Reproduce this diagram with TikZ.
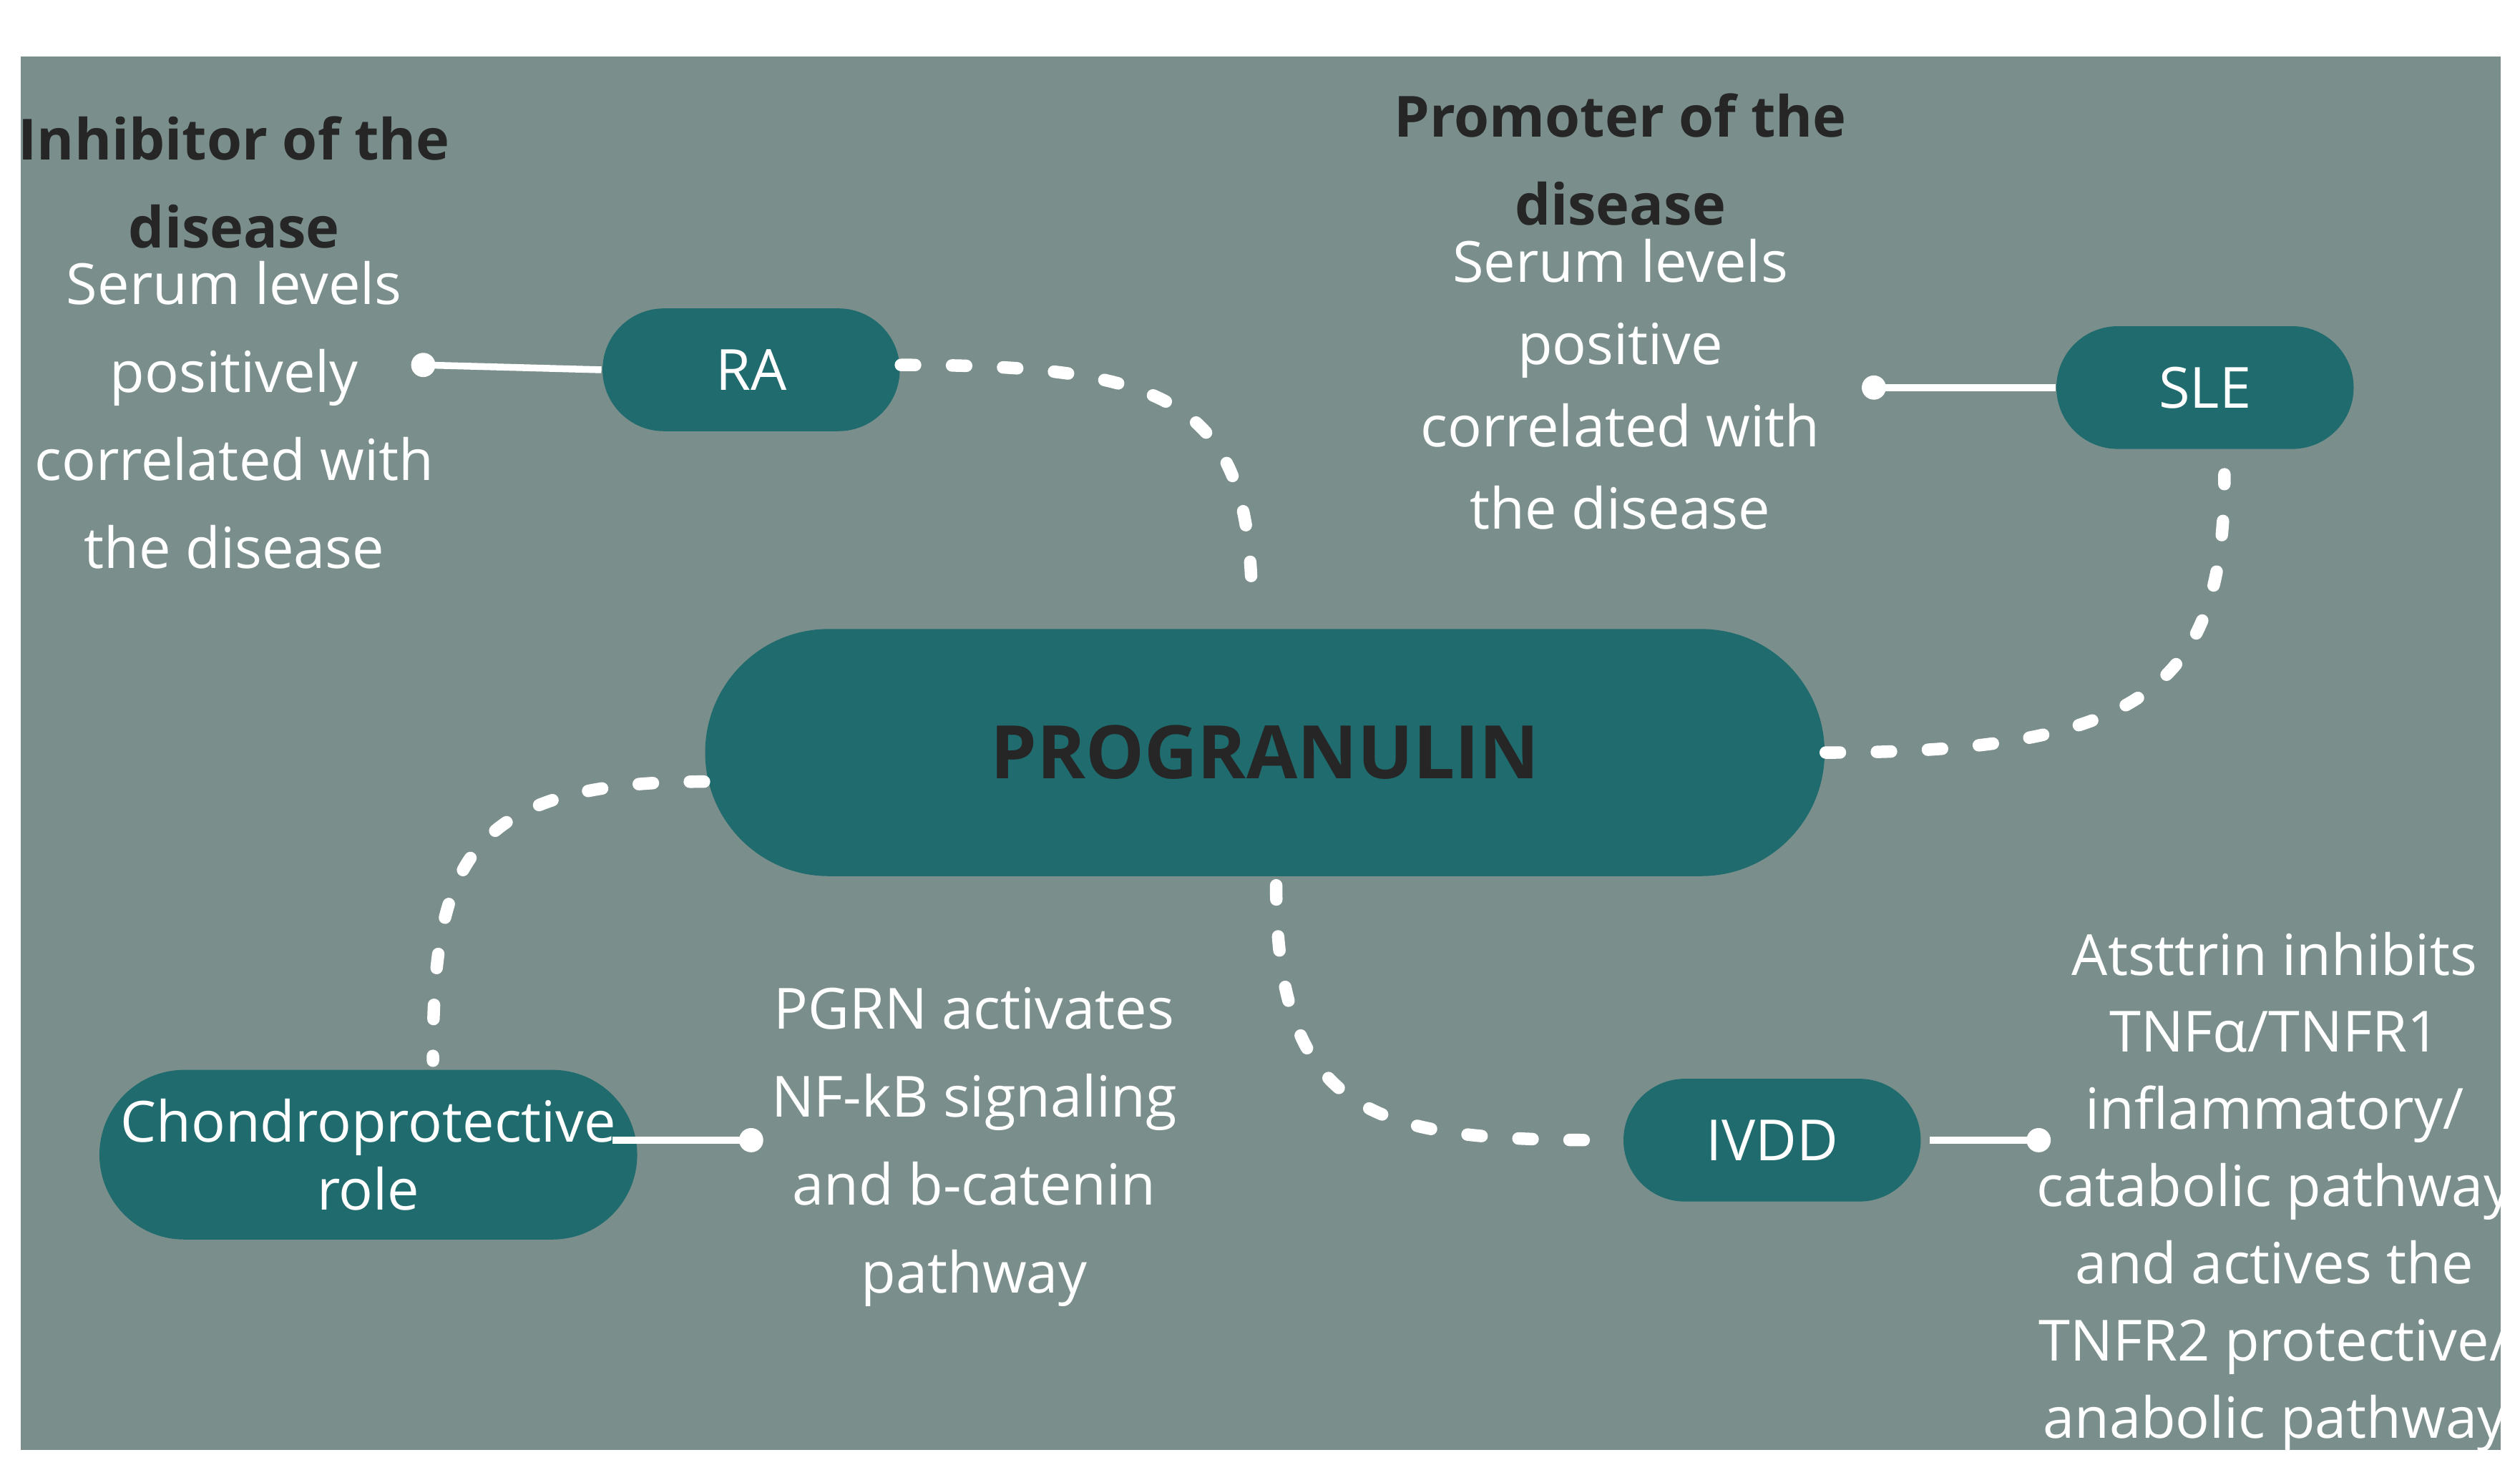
\documentclass[tikz,border=0pt]{standalone}
\usepackage{fontspec}
\setmainfont{Open Sans}
\usetikzlibrary{shapes.misc}
\definecolor{bgc}{HTML}{7A8F8C}
\definecolor{teal}{HTML}{1F6B6E}
\tikzset{
  pill/.style={rounded rectangle, fill=teal, text=white, inner sep=0pt, align=center,
    font=\fontsize{10}{12}\selectfont},
  dots/.style={white, line width=2.2pt, line cap=round, dash pattern=on 2.5pt off 6.5pt},
  link/.style={white, line width=1.2pt},
  dot/.style={circle, fill=white, inner sep=0pt, minimum size=0.15cm},
  wtext/.style={text=white, align=center, font=\fontsize{10}{15.5}\selectfont},
  head/.style={text=black!85, align=center, font=\bfseries\fontsize{10}{15.5}\selectfont}
}
\begin{document}
\begin{tikzpicture}[x=1cm,y=1cm]
\useasboundingbox (0,0) rectangle (15.6,9.16);
\fill[bgc] (0.13,0.18) rectangle (15.48,8.81);

\node[pill, minimum width=6.93cm, minimum height=1.53cm,
  text=black!85, font=\bfseries\fontsize{13}{15}\selectfont] (pg) at (7.83,4.50) {PROGRANULIN};
\node[pill, minimum width=1.84cm, minimum height=0.76cm] (ra) at (4.65,6.87) {RA};
\node[pill, minimum width=1.84cm, minimum height=0.76cm] (sle) at (13.65,6.76) {SLE};
\node[pill, minimum width=2.90cm, minimum height=1.05cm] (ch) at (2.28,2.01) {Chondroprotective\\role};
\node[pill, minimum width=1.84cm, minimum height=0.76cm] (iv) at (10.97,2.10) {IVDD};

\node[head] (h1) at (1.45,8.03) {Inhibitor of the\\disease};
\node[wtext] (t1) at (1.45,6.59) {Serum levels\\positively\\correlated with\\the disease};
\node[head] (h2) at (10.03,8.17) {Promoter of the\\disease};
\node[wtext, font=\fontsize{10}{14.5}\selectfont] (t2) at (10.03,6.78) {Serum levels\\positive\\correlated with\\the disease};
\node[wtext] (t3) at (6.03,2.06) {PGRN activates\\NF-kB signaling\\and b-catenin\\pathway};
\node[wtext, font=\fontsize{10}{13.6}\selectfont] (t4) at (14.08,1.78) {Atsttrin inhibits\\TNFα/TNFR1\\inflammatory/\\catabolic pathway\\and actives the\\TNFR2 protective/\\anabolic pathway};

\coordinate (d1) at (2.62,6.90);
\coordinate (d2) at (11.60,6.76);
\coordinate (d3) at (4.65,2.10);
\coordinate (d4) at (12.62,2.10);
\draw[link] (ra.west) -- (d1); \node[dot] at (d1) {};
\draw[link] (sle.west) -- (d2); \node[dot] at (d2) {};
\draw[link] ([xshift=-0.16cm]ch.east |- d3) -- (d3); \node[dot] at (d3) {};
\draw[link] ([xshift=0.05cm]iv.east) -- (d4); \node[dot] at (d4) {};

\draw[dots] ([yshift=0.03cm]ra.east) .. controls +(1.7,0) and +(0,1.3) .. ([xshift=-0.08cm,yshift=0.1cm]pg.north);
\draw[dots] ([yshift=0.0cm]pg.east) .. controls +(2.0,0) and +(0,-1.3) .. ([xshift=0.12cm,yshift=-0.15cm]sle.south);
\draw[dots] ([yshift=-0.18cm]pg.west) .. controls +(-1.5,0) and +(0,1.2) .. ([xshift=0.4cm,yshift=0.05cm]ch.north);
\draw[dots] ([xshift=0.07cm,yshift=-0.05cm]pg.south) .. controls +(0,-1.5) and +(-1.4,0) .. ([xshift=-0.05cm]iv.west);
\end{tikzpicture}
\end{document}
